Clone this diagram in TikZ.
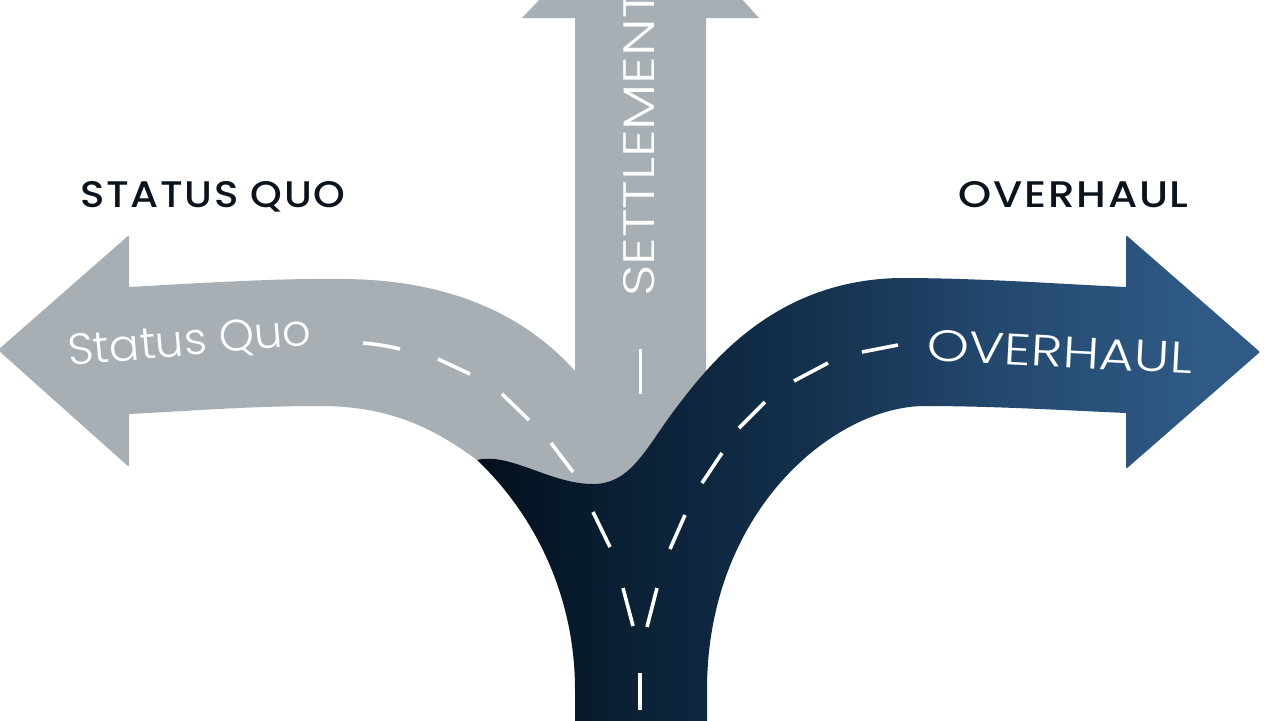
\documentclass[tikz,border=0pt]{standalone}
\usepackage{fontspec}
\setmainfont{Poppins Medium}
\newfontfamily\lightf{Poppins Light}
\definecolor{greyroad}{HTML}{A8AFB4}
\definecolor{inkc}{HTML}{0B141D}
\definecolor{rda}{HTML}{030F1B}
\definecolor{rdb}{HTML}{0A2136}
\definecolor{rdc}{HTML}{14304C}
\definecolor{rdd}{HTML}{23486E}
\definecolor{rde}{HTML}{2E5A85}
\pgfdeclarehorizontalshading{roadshade}{100bp}{
 color(0bp)=(rda);
 color(25bp)=(rda);
 color(35bp)=(rdb);
 color(46bp)=(rdc);
 color(58bp)=(rdd);
 color(71bp)=(rde);
 color(100bp)=(rde)}
\tikzset{
  lanedash/.style={white,line width=1.8pt,line cap=butt},
  toplabel/.style={inkc,inner sep=0pt,font=\fontsize{18.5pt}{20pt}\selectfont},
  roadlabel/.style={white,inner sep=0pt,font=\lightf\fontsize{22pt}{24pt}\selectfont}
}
\begin{document}
\begin{tikzpicture}[x=0.5pt,y=-0.5pt]
\useasboundingbox (0,0) rectangle (1280,720);
\clip (0,0) rectangle (1280,720);
% grey arrows
\fill[greyroad] (129,287)
  .. controls (200,283) and (280,278) .. (345,279)
  .. controls (450,280) and (525,315) .. (575,371)
  -- (575,18) -- (522,18) -- (541,-2) -- (741,-2) -- (759,18) -- (706,18) -- (706,376)
  -- (640,470) -- (593,490) -- (540,476) -- (490,462) -- (477,460)
  .. controls (430,425) and (385,406) .. (320,406)
  .. controls (250,406) and (190,411) .. (129,414)
  [rounded corners=1pt] -- (129,467) -- (-2,350) -- (129,235) [sharp corners] -- cycle;
% dark road
\shade[shading=roadshade]
  (575,722) -- (575,690)
  .. controls (575,590) and (530,510) .. (477,460)
  .. controls (510,452) and (550,484) .. (593,484)
  .. controls (630,484) and (645,450) .. (673,412)
  .. controls (705,370) and (770,280) .. (900,278)
  .. controls (980,278) and (1060,284) .. (1126,287)
  [rounded corners=1pt] -- (1126,235) -- (1260,352) -- (1126,469) [sharp corners] -- (1126,413)
  .. controls (1060,410) and (990,406) .. (925,406)
  .. controls (835,406) and (707,510) .. (707,690)
  -- (707,722) -- cycle;
% lane dashes
\draw[lanedash] (640.5,349) -- (640.5,394);
\draw[lanedash] (640,673) -- (640,710);
\draw[lanedash] (363,343) .. controls (375,344) and (388,346) .. (400,349);
\draw[lanedash] (438,359) -- (470,374);
\draw[lanedash] (502,394) -- (529,420);
\draw[lanedash] (551,443) -- (573,472);
\draw[lanedash] (593,512) -- (610,547);
\draw[lanedash] (623,588) -- (633,626);
\draw[lanedash] (657,588) -- (647,627);
\draw[lanedash] (685,515) -- (670,549);
\draw[lanedash] (722,453) -- (702,483);
\draw[lanedash] (765,402) -- (739,428);
\draw[lanedash] (794,381) -- (828,363);
\draw[lanedash] (862,352) -- (898,345);
% labels
\node[toplabel,anchor=base west] (statustop) at (80,207) {\scalebox{1.09}[1]{\addfontfeature{LetterSpace=4}STATUS QUO}};
\node[toplabel,anchor=base east] (overtop) at (1189,207) {\scalebox{1.14}[1]{\addfontfeature{LetterSpace=4}OVERHAUL}};
\node[roadlabel,anchor=base west,rotate=5] (statusroad) at (69,366) {\scalebox{1.02}[1]{Status Quo}};
\node[roadlabel,anchor=base west,rotate=-3] (overroad) at (926,360) {\scalebox{1.22}[1]{OVERHAUL}};
\node[roadlabel,anchor=base west,rotate=90] (settle) at (654,297) {\scalebox{1.245}[1]{SETTLEMENT}};
\end{tikzpicture}
\end{document}
